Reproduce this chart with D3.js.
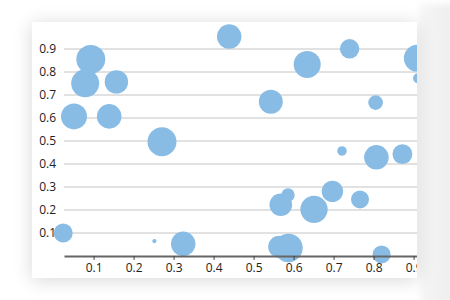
<!DOCTYPE html>
<html>
<head>
<meta charset="utf-8">
<script src="https://cdn.jsdelivr.net/npm/d3@7"></script>
<style>
  html, body { margin: 0; padding: 0; background: #fff; width: 450px; height: 300px; overflow: hidden; }
  .side { position: absolute; left: 420px; top: 4px; width: 40px; height: 300px;
          background: linear-gradient(to right, #f6f6f6, #ececec); filter: blur(3px); }
  .card { position: absolute; left: 32px; top: 22px; width: 385px; height: 256px;
          background: #fff; overflow: hidden; box-shadow: 0 2px 18px rgba(0,0,0,0.16); }
  .card text { font-family: "Segoe UI", "Open Sans", "Noto Sans", sans-serif; font-size: 12px; fill: #222; }
  .grid line { stroke: #c4c4c4; stroke-width: 1; }
</style>
</head>
<body>
<div class="side"></div>
<div class="card"></div>
<script>
// bubble data
var xs = [0.024, 0.252, 0.324, 0.271, 0.051, 0.139, 0.079, 0.093, 0.157, 0.439, 0.543, 0.634, 0.740, 0.805,
          0.909, 0.911, 0.721, 0.807, 0.872, 0.697, 0.766, 0.651, 0.586, 0.568, 0.564, 0.587, 0.820];
var ys = [0.100, 0.065, 0.053, 0.497, 0.607, 0.607, 0.751, 0.855, 0.757, 0.954, 0.671, 0.833, 0.901, 0.667,
          0.860, 0.773, 0.457, 0.429, 0.443, 0.281, 0.246, 0.203, 0.265, 0.223, 0.040, 0.035, 0.007];
var sizes = [0.40, 0.02, 0.67, 0.93, 0.75, 0.67, 0.87, 0.93, 0.61, 0.67, 0.64, 0.81, 0.42, 0.24,
             0.79, 0.11, 0.10, 0.67, 0.44, 0.51, 0.36, 0.83, 0.20, 0.57, 0.54, 0.91, 0.36];
var tickVals = [0.1, 0.2, 0.3, 0.4, 0.5, 0.6, 0.7, 0.8, 0.9];

var data = xs.map(function(x, i) { return { x: x, y: ys[i], s: sizes[i] }; });

var width = 385, height = 256;
var svg = d3.select('.card').append('svg')
  .attr('width', width).attr('height', height);

var x = d3.scaleLinear().domain([0.026, 1]).range([32, 421.6]);
var y = d3.scaleLinear().domain([0, 1]).range([234, 4]);
var r = d3.scaleSqrt().domain([0, 1]).range([0, 15]);

// horizontal grid lines
svg.append('g').attr('class', 'grid')
  .selectAll('line').data(tickVals).enter().append('line')
  .attr('x1', x.range()[0]).attr('x2', width)
  .attr('y1', function(d) { return y(d); })
  .attr('y2', function(d) { return y(d); });

// y axis labels only
var yAxis = svg.append('g')
  .attr('transform', 'translate(' + x.range()[0] + ',0)')
  .call(d3.axisLeft(y).tickValues(tickVals).tickSize(0).tickPadding(8).tickFormat(d3.format('.1f')));
yAxis.select('.domain').remove();
yAxis.selectAll('text').attr('font-family', null).attr('font-size', null);

// bubbles
svg.append('g').selectAll('circle')
  .data(data).enter().append('circle')
  .attr('cx', function(d) { return x(d.x); })
  .attr('cy', function(d) { return y(d.y); })
  .attr('r', function(d) { return r(d.s); })
  .attr('fill', '#89bce5');

// x axis
var xAxis = svg.append('g')
  .attr('transform', 'translate(0,' + y(0) + ')')
  .call(d3.axisBottom(x).tickValues(tickVals).tickSize(4).tickSizeOuter(0).tickPadding(3).tickFormat(d3.format('.1f')));
xAxis.select('.domain').attr('stroke', '#666').attr('stroke-width', 2);
xAxis.selectAll('.tick line').attr('stroke', '#444');
xAxis.selectAll('text').attr('font-family', null).attr('font-size', null);
</script>
</body>
</html>
